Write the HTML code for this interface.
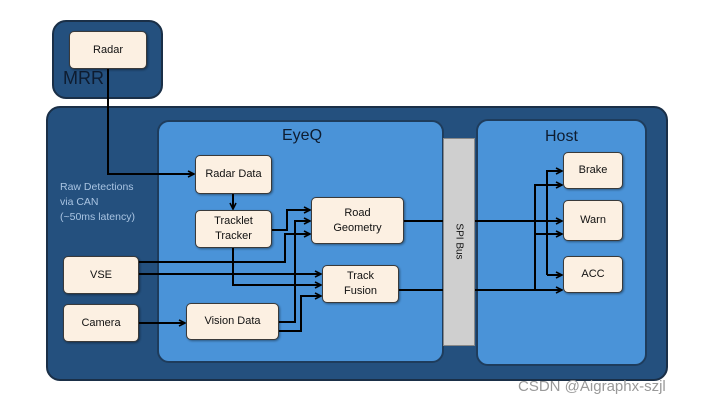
<!DOCTYPE html>
<html><head><style>
body{margin:0;width:706px;height:408px;background:#fff;position:relative;overflow:hidden;font-family:"Liberation Sans",sans-serif}
.b{position:absolute;box-sizing:border-box}
.dk{background:#24507e;border:2px solid #1a2f47;border-radius:14px}
.lt{background:#4a93d8;border:2px solid #1e3c5c;border-radius:12px}
.n{position:absolute;box-sizing:border-box;background:#fcf0e2;border:1.5px solid #3a3a3a;border-radius:5px;display:flex;align-items:center;justify-content:center;text-align:center;font-size:11px;line-height:15px;color:#111;box-shadow:1px 1px 2px rgba(0,0,0,.4)}
.t{position:absolute;color:#0e1c30}
</style></head><body>
<div class="b dk" style="left:52px;top:20px;width:111px;height:79px"></div>
<div class="t" style="left:63px;top:68px;font-size:18px">MRR</div>
<div class="b dk" style="left:46px;top:106px;width:622px;height:275px"></div>
<div class="b lt" style="left:157px;top:120px;width:287px;height:243px"></div>
<div class="t" style="left:282px;top:127px;font-size:16px">EyeQ</div>
<div class="b lt" style="left:476px;top:119px;width:171px;height:247px"></div>
<div class="t" style="left:545px;top:128px;font-size:16px">Host</div>
<div class="b" style="left:443px;top:138px;width:32px;height:208px;background:#cfcfcf;border:1px solid #888"></div>
<div class="t" style="left:424px;top:236px;width:70px;transform:rotate(90deg);font-size:10px;text-align:center;color:#111;white-space:nowrap">SPI Bus</div>
<div class="t" style="left:60px;top:180px;font-size:10.5px;line-height:15px;color:#a9c4e2">Raw Detections<br>via CAN<br>(~50ms latency)</div>
<svg width="706" height="408" style="position:absolute;left:0;top:0">
<defs><marker id="a" markerWidth="8" markerHeight="8" refX="7" refY="4" orient="auto" markerUnits="userSpaceOnUse"><path d="M1,1 L7,4 L1,7" fill="none" stroke="#000" stroke-width="1.6"/></marker></defs>
<g fill="none" stroke="#000" stroke-width="2" marker-end="url(#a)">
<path d="M108,69 V174 H194"/>
<path d="M233,194 V209"/>
<path d="M272,230 H287 V210 H310"/>
<path d="M279,322 H295 V221 H310"/>
<path d="M139,262 H285 V234 H310"/>
<path d="M139,274 H321"/>
<path d="M233,248 V285 H321"/>
<path d="M279,331 H301 V296 H321"/>
<path d="M139,323 H185"/>
<path d="M475,221 H562"/>
<path d="M475,290 H562"/>
<path d="M535,290 V185 H562"/>
<path d="M535,234 H562"/>
<path d="M547,275 V171 H562"/>
<path d="M547,275 H562"/>
</g>
<g stroke="#000" stroke-width="2"><path d="M404,221 H443"/><path d="M399,290 H443"/></g>
</svg>
<div class="n" style="left:69px;top:31px;width:78px;height:38px">Radar</div>
<div class="n" style="left:195px;top:155px;width:77px;height:39px">Radar Data</div>
<div class="n" style="left:195px;top:210px;width:77px;height:38px">Tracklet<br>Tracker</div>
<div class="n" style="left:311px;top:197px;width:93px;height:47px">Road<br>Geometry</div>
<div class="n" style="left:322px;top:265px;width:77px;height:38px">Track<br>Fusion</div>
<div class="n" style="left:63px;top:256px;width:76px;height:38px">VSE</div>
<div class="n" style="left:63px;top:304px;width:76px;height:38px">Camera</div>
<div class="n" style="left:186px;top:303px;width:93px;height:37px">Vision Data</div>
<div class="n" style="left:563px;top:152px;width:60px;height:37px">Brake</div>
<div class="n" style="left:563px;top:200px;width:60px;height:41px">Warn</div>
<div class="n" style="left:563px;top:256px;width:60px;height:37px">ACC</div>
<div class="t" style="left:518px;top:378px;font-size:15px;color:#999">CSDN @Aigraphx-szjl</div>
</body></html>
